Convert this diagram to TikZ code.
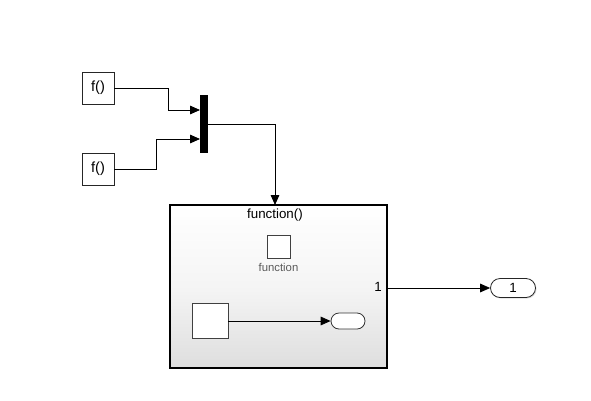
\documentclass[tikz,border=0pt]{standalone}
\usepackage{fontspec}
\setmainfont{Liberation Sans}
\usetikzlibrary{arrows.meta,shapes.misc,shadows}
\definecolor{portgray}{RGB}{90,90,90}

\tikzset{
  blk/.style={draw=black!85,fill=white,line width=0.6pt,inner sep=0pt,
    drop shadow={shadow xshift=0.8pt,shadow yshift=-0.8pt,opacity=0.25}},
  sig/.style={draw=black,line width=0.6pt,-{Triangle[length=7.5pt,width=6.5pt]}},
}

\begin{document}
\begin{tikzpicture}[font=\fontsize{10}{12}\selectfont,x=0.75pt,y=-0.75pt,line join=miter]
\useasboundingbox (0,0) rectangle (591,400);
% constant blocks
\node[blk,font=\fontsize{11}{13}\selectfont,minimum width=24pt,minimum height=24pt] (fa) at (98,88) {f()};
\node[blk,font=\fontsize{11}{13}\selectfont,minimum width=24pt,minimum height=24pt] (fb) at (98,169) {f()};
% mux bar
\node[fill=black,inner sep=0pt,minimum width=6pt,minimum height=43.5pt] (mux) at (204,124) {};
\coordinate (muxa) at (200,110);
\coordinate (muxb) at (200,139);
% function-call subsystem
\node[draw=black,line width=1.6pt,top color=white,bottom color=black!13,middle color=white!96!black,
  inner sep=0pt,minimum width=162.75pt,minimum height=122.25pt] (sub) at (278.5,286.5) {};
\coordinate (trig) at (275,205);
\node[anchor=north,inner sep=0pt] (subname) at (275,209) {function()};
\node[blk,draw=black!75,minimum width=17.25pt,minimum height=17.25pt] (trigport) at (278.5,246.5) {};
\node[font=\fontsize{8.5}{10}\selectfont,text=portgray,anchor=north,inner sep=0pt] (trigname) at (278.5,263.5) {function};
\node[blk,draw=black!75,minimum width=27pt,minimum height=26.25pt] (inport) at (210,320.5) {};
\node[rounded rectangle,draw=black!80,fill=white,inner sep=0pt,line width=0.6pt,
  minimum width=25.5pt,minimum height=12pt] (inout) at (348,321) {};
\node[inner sep=0pt] (portnum) at (378,287) {1};
% root outport
\node[rounded rectangle,blk,minimum width=33.75pt,minimum height=14.25pt] (out) at (513,288) {1};
% signals
\draw[sig] (fa.east) -- ++(54,0) |- (muxa);
\draw[sig] (fb.east) -- ++(42,0) |- (muxb);
\draw[sig] (mux.east) -| (trig);
\draw[sig] (inport.east |- inout.west) -- (inout.west);
\draw[sig] (sub.east |- out.west) -- (out.west);
\end{tikzpicture}
\end{document}
